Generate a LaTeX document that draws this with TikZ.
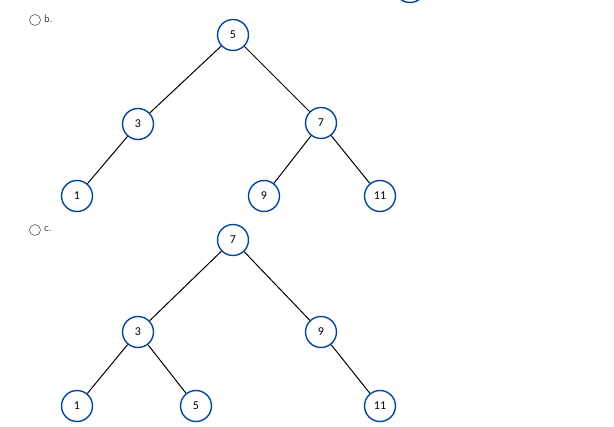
\documentclass[tikz,border=0pt]{standalone}
\usepackage{fontspec}
\setmainfont{Carlito}
\begin{document}
\begin{tikzpicture}[x=1pt,y=-1pt,
  tn/.style={circle,draw=blue!55!cyan!60!black,line width=1.4pt,minimum size=31pt,inner sep=0pt,fill=white,font=\fontsize{12}{12}\selectfont},
  radio/.style={circle,draw=gray!70!black,line width=0.6pt,minimum size=11pt,inner sep=0pt},
  lab/.style={font=\fontsize{11}{11}\selectfont\sffamily,text=black!80,anchor=west,inner sep=0pt},
  ed/.style={line width=1pt}]
\useasboundingbox (0,0) rectangle (614,427);
\node[radio] (rb) at (35,20) {};
\node[lab] (lb) at (44,19) {b.};
\node[radio] (rc) at (35,230) {};
\node[lab] (lc) at (44,229) {c.};
\begin{scope}
\clip (0,0) rectangle (614,427);
\node[tn] (p) at (410,-13) {};
\end{scope}
% tree b
\node[tn] (b5) at (233,35) {5};
\node[tn] (b3) at (138,124) {3};
\node[tn] (b7) at (321,123) {7};
\node[tn] (b1) at (77,196) {1};
\node[tn] (b9) at (264,196) {9};
\node[tn] (b11) at (380,196) {11};
\draw[ed] (b5)--(b3) (b5)--(b7) (b3)--(b1) (b7)--(b9) (b7)--(b11);
% tree c
\node[tn] (c7) at (233,240) {7};
\node[tn] (c3) at (138,332) {3};
\node[tn] (c9) at (321,332) {9};
\node[tn] (c1) at (77,406) {1};
\node[tn] (c5) at (196,406) {5};
\node[tn] (c11) at (380,406) {11};
\draw[ed] (c7)--(c3) (c7)--(c9) (c3)--(c1) (c3)--(c5) (c9)--(c11);
\end{tikzpicture}
\end{document}
